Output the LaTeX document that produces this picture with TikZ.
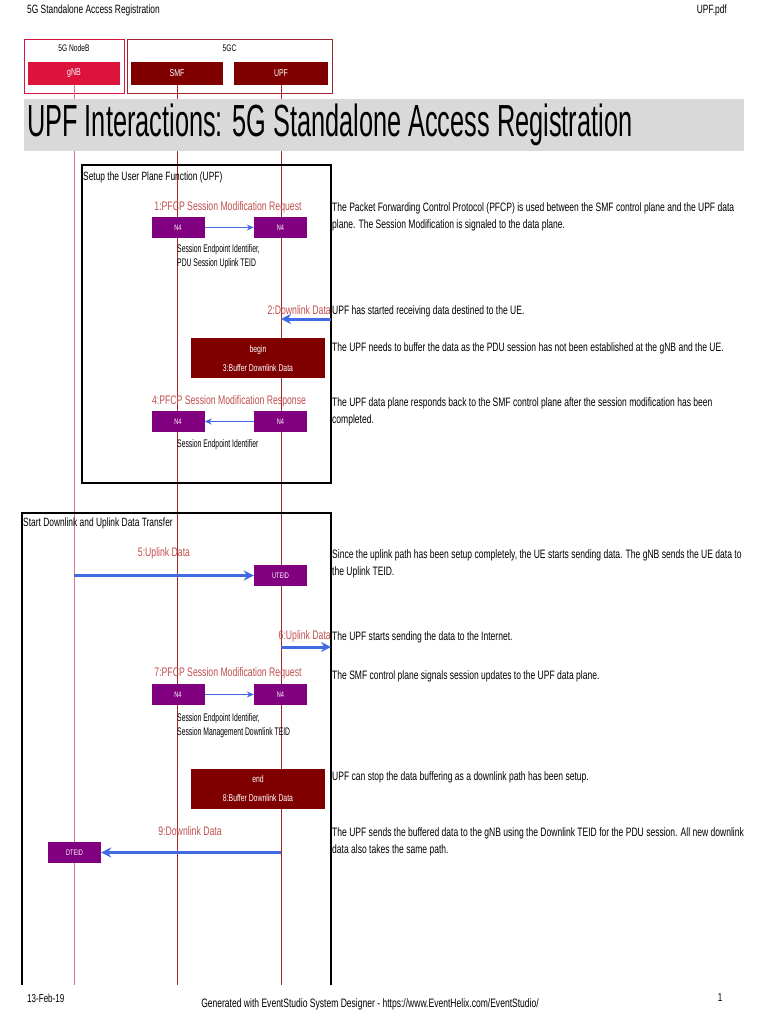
\documentclass[tikz,border=0pt]{standalone}
\usepackage{fontspec}
\setmainfont{Liberation Sans}[FakeStretch=0.70]
\newfontfamily\titlefont{Liberation Sans}[FakeStretch=0.563]
\newfontfamily\notefont{Liberation Sans}[FakeStretch=0.62]
\usetikzlibrary{arrows.meta}

\definecolor{gnbred}{HTML}{DC143C}
\definecolor{corered}{HTML}{800000}
\definecolor{msgpurple}{HTML}{800080}
\definecolor{arrowblue}{HTML}{4169E1}
\definecolor{labelred}{HTML}{C0504D}
\definecolor{bandgray}{HTML}{D9D9D9}
\definecolor{gnbline}{HTML}{E07088}
\definecolor{coreline}{HTML}{A0262E}

\begin{document}
\begin{tikzpicture}[x=1pt, y=-1pt,
    entity/.style={fill=#1, text=white, minimum width=92pt, minimum height=23pt, inner sep=0pt, font=\fontsize{10}{11}\selectfont},
    tebox/.style={fill=msgpurple, text=white, minimum width=53pt, minimum height=21pt, inner sep=0pt, font=\fontsize{8}{9}\selectfont},
    bufbox/.style={fill=corered, text=white, minimum width=134pt, minimum height=40pt, inner sep=0pt, align=center, font=\fontsize{9.8}{19}\selectfont},
    msglabel/.style={text=labelred, inner sep=0pt, font=\fontsize{12.4}{14}\selectfont},
    note/.style={anchor=west, inner sep=0pt, align=left, font=\notefont\fontsize{11}{14}\selectfont},
    desc/.style={anchor=west, inner sep=0pt, align=left, font=\fontsize{12.2}{16.8}\selectfont},
    grouplbl/.style={anchor=west, inner sep=0pt, font=\fontsize{12}{13}\selectfont},
    thinmsg/.style={arrowblue, line width=1.2pt, -{Stealth[length=7pt,width=6pt]}},
    thickmsg/.style={arrowblue, line width=3pt, -{Stealth[length=10pt,width=10pt]}}]
    \useasboundingbox[fill=white] (0,0) rectangle (768,1024);

    % page header
    \node[anchor=west, inner sep=0pt, font=\fontsize{12}{13}\selectfont] (hdrleft) at (27,10) {5G Standalone Access Registration};
    \node[anchor=east, inner sep=0pt, font=\fontsize{12}{13}\selectfont] (hdrright) at (727,10) {UPF.pdf};

    % entities and their groups
    \node[draw=gnbred, line width=0.8pt, minimum width=100pt, minimum height=54pt] (nodebgrp) at (74,66) {};
    \node[draw=coreline, line width=0.8pt, minimum width=205pt, minimum height=54pt] (coregrp) at (229.5,66) {};
    \node[inner sep=0pt, font=\fontsize{9.5}{10}\selectfont] (nodeblbl) at (74,48) {5G NodeB};
    \node[inner sep=0pt, font=\fontsize{9.5}{10}\selectfont] (corelbl) at (229.5,48) {5GC};
    \node[entity=gnbred] (gnb) at (74,73.5) {gNB};
    \node[entity=corered] (smf) at (177,73.5) {SMF};
    \node[entity=corered, minimum width=94pt] (upf) at (281,73.5) {UPF};

    % lifelines
    \coordinate (gnbend) at (74,985);
    \coordinate (smfend) at (177,985);
    \coordinate (upfend) at (281,985);
    \draw[gnbline, line width=0.8pt] (gnb.south) -- (gnbend);
    \draw[coreline, line width=0.8pt] (smf.south) -- (smfend);
    \draw[coreline, line width=0.8pt] (upf.south) -- (upfend);

    % title band
    \node[fill=bandgray, anchor=north west, minimum width=720pt, minimum height=52pt, inner sep=0pt] (band) at (24,99) {};
    \node[anchor=base west, inner sep=0pt, font=\titlefont\fontsize{45}{45}\selectfont] (title) at (27,137) {UPF Interactions: 5G Standalone Access Registration};

    % Setup the User Plane Function
    \draw[black, line width=2pt] (82,165) rectangle (331,483);
    \node[grouplbl] (setuplbl) at (83,177) {Setup the User Plane Function (UPF)};

    \node[msglabel] (msg1) at (228,207) {1:PFCP Session Modification Request};
    \node[tebox] (n4a) at (178,227.5) {N4};
    \node[tebox] (n4b) at (280.5,227.5) {N4};
    \draw[thinmsg] (n4a) -- (n4b);
    \node[note] (note1) at (177,257) {Session Endpoint Identifier,\\PDU Session Uplink TEID};
    \node[desc] (desc1) at (332,217) {The Packet Forwarding Control Protocol (PFCP) is used between the SMF control plane and the UPF data\\plane. The Session Modification is signaled to the data plane.};

    \node[msglabel, anchor=east] (msg2) at (331,310) {2:Downlink Data};
    \coordinate (dl2from) at (331,319);
    \coordinate (dl2to) at (281,319);
    \draw[thickmsg] (dl2from) -- (dl2to);
    \node[desc] (desc2) at (332,311) {UPF has started receiving data destined to the UE.};

    \node[bufbox] (buf3) at (258,358) {begin\\3:Buffer Downlink Data};
    \node[desc] (desc3) at (332,348) {The UPF needs to buffer the data as the PDU session has not been established at the gNB and the UE.};

    \node[msglabel] (msg4) at (229,401) {4:PFCP Session Modification Response};
    \node[tebox] (n4c) at (178,421.5) {N4};
    \node[tebox] (n4d) at (280.5,421.5) {N4};
    \draw[thinmsg] (n4d) -- (n4c);
    \node[note] (note4) at (177,445) {Session Endpoint Identifier};
    \node[desc] (desc4) at (332,412) {The UPF data plane responds back to the SMF control plane after the session modification has been\\completed.};

    % Start Downlink and Uplink Data Transfer
    \draw[black, line width=1.5pt] (22,985) -- (22,513) -- (331,513) -- (331,985);
    \node[grouplbl] (startlbl) at (23,523) {Start Downlink and Uplink Data Transfer};

    \node[msglabel] (msg5) at (164,553) {5:Uplink Data};
    \node[tebox] (uteid) at (280.5,575.5) {UTEID};
    \coordinate (ul5from) at (74,575.5);
    \draw[thickmsg] (ul5from) -- (uteid.west);
    \node[desc] (desc5) at (332,564) {Since the uplink path has been setup completely, the UE starts sending data. The gNB sends the UE data to\\the Uplink TEID.};

    \node[msglabel, anchor=east] (msg6) at (331,636) {6:Uplink Data};
    \coordinate (ul6from) at (281,647);
    \coordinate (ul6to) at (331,647);
    \draw[thickmsg] (ul6from) -- (ul6to);
    \node[desc] (desc6) at (332,637) {The UPF starts sending the data to the Internet.};

    \node[msglabel] (msg7) at (228,673) {7:PFCP Session Modification Request};
    \node[tebox] (n4e) at (178,694.5) {N4};
    \node[tebox] (n4f) at (280.5,694.5) {N4};
    \draw[thinmsg] (n4e) -- (n4f);
    \node[note] (note7) at (177,725.5) {Session Endpoint Identifier,\\Session Management Downlink TEID};
    \node[desc] (desc7) at (332,676) {The SMF control plane signals session updates to the UPF data plane.};

    \node[bufbox] (buf8) at (258,788.5) {end\\8:Buffer Downlink Data};
    \node[desc] (desc8) at (332,777) {UPF can stop the data buffering as a downlink path has been setup.};

    \node[msglabel] (msg9) at (190,831) {9:Downlink Data};
    \node[tebox] (dteid) at (74.5,852.5) {DTEID};
    \coordinate (dl9from) at (281,852.5);
    \draw[thickmsg] (dl9from) -- (dteid.east);
    \node[desc] (desc9) at (332,842) {The UPF sends the buffered data to the gNB using the Downlink TEID for the PDU session. All new downlink\\data also takes the same path.};

    % page footer
    \node[anchor=west, inner sep=0pt, font=\fontsize{11.5}{13}\selectfont] (date) at (27,998) {13-Feb-19};
    \node[inner sep=0pt, font=\fontsize{12.2}{13}\selectfont] (gen) at (370,1004) {Generated with EventStudio System Designer - https://www.EventHelix.com/EventStudio/};
    \node[inner sep=0pt, font=\fontsize{11.5}{13}\selectfont] (pageno) at (720,998) {1};
\end{tikzpicture}
\end{document}
